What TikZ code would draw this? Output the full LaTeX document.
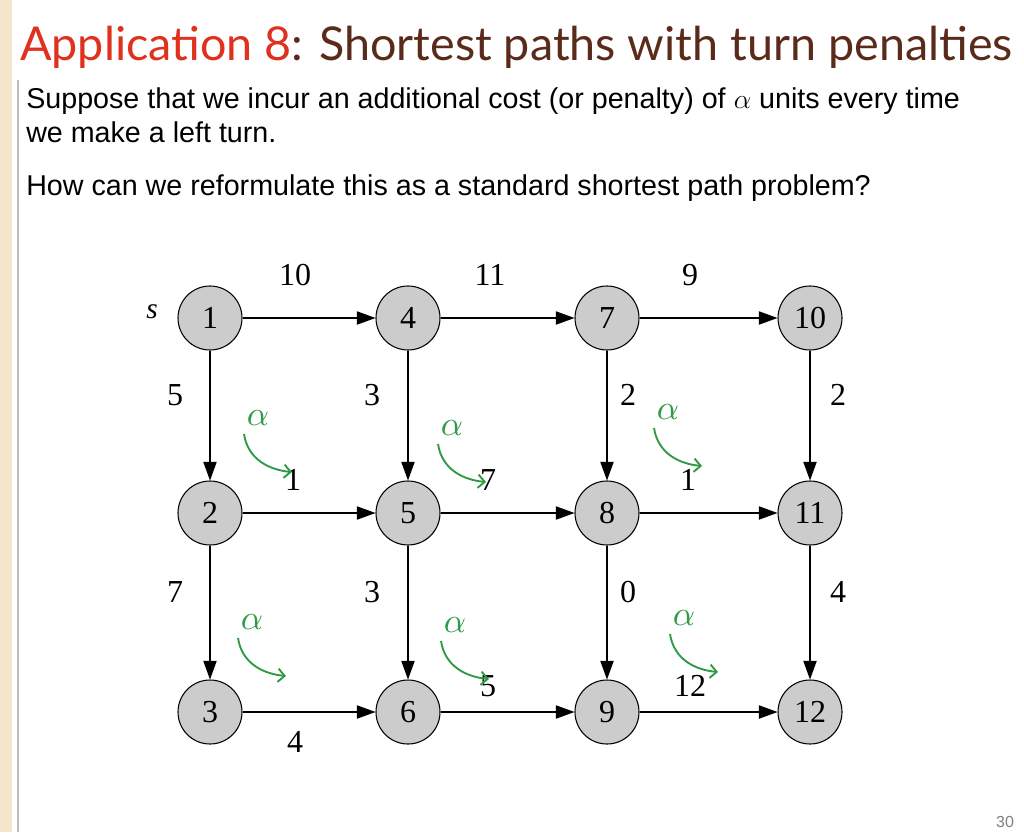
\documentclass[tikz,border=0pt]{standalone}
\usepackage{fontspec}
\setmainfont{Liberation Serif}
\newfontfamily\sansf{Liberation Sans}
\newfontfamily\titlef{Lato}
\usetikzlibrary{arrows.meta}
\definecolor{ttlred}{HTML}{E0301E}
\definecolor{ttlbrown}{HTML}{5A2A1A}
\definecolor{grn}{HTML}{2E9A45}
\begin{document}
\begin{tikzpicture}[x=0.75pt,y=-0.75pt,
  v/.style={circle,draw=black,line width=0.8pt,fill=gray!40,minimum size=48pt,inner sep=0pt,font=\fontsize{24}{24}\selectfont},
  e/.style={-{Triangle[length=14pt,width=10pt]},line width=0.8pt},
  lab/.style={font=\fontsize{24}{24}\selectfont},
  al/.style={grn,scale=2.6},
  ga/.style={grn,line width=1.4pt,-{Straight Barb[length=5pt]}}]
\useasboundingbox (0,0) rectangle (1024,832);
\fill[white] (0,0) rectangle (1024,832);
\fill[yellow!20!brown!25] (0,0) rectangle (12,832);
\draw[gray!50,line width=1pt] (18,80) -- (18,832);
\node[anchor=base west,inner sep=0] (t) at (20,60) {\titlef\fontsize{35}{35}\selectfont\textcolor{ttlred}{Application 8}\textcolor{ttlbrown}{: Shortest paths with turn penalties}};
\node[anchor=base west,inner sep=0] (p1) at (26,108) {\sansf\fontsize{21.5}{24}\selectfont Suppose that we incur an additional cost (or penalty) of $\alpha$ units every time};
\node[anchor=base west,inner sep=0] (p2) at (26,142) {\sansf\fontsize{21.5}{24}\selectfont we make a left turn.};
\node[anchor=base west,inner sep=0] (p3) at (26,195) {\sansf\fontsize{21.5}{24}\selectfont How can we reformulate this as a standard shortest path problem?};
\foreach \n/\x/\y in {1/210/318,4/408/318,7/607/318,10/810/318,2/210/513,5/408/513,8/607/513,11/810/513,3/210/712,6/408/712,9/607/712,12/810/712}
  \node[v] (n\n) at (\x,\y) {\n};
\node[lab,font=\fontsize{22}{22}\selectfont\itshape] (s) at (152,312) {s};
\draw[e] (n1)--(n4); \draw[e] (n4)--(n7); \draw[e] (n7)--(n10);
\draw[e] (n2)--(n5); \draw[e] (n5)--(n8); \draw[e] (n8)--(n11);
\draw[e] (n3)--(n6); \draw[e] (n6)--(n9); \draw[e] (n9)--(n12);
\draw[e] (n1)--(n2); \draw[e] (n2)--(n3);
\draw[e] (n4)--(n5); \draw[e] (n5)--(n6);
\draw[e] (n7)--(n8); \draw[e] (n8)--(n9);
\draw[e] (n10)--(n11); \draw[e] (n11)--(n12);
\foreach \t/\x/\y in {10/295/275,11/490/275,9/690/275,5/175/395,3/372/395,2/628/395,2/838/395,1/293/480,7/488/480,1/688/480,7/175/592,3/372/592,0/628/592,4/838/592,4/295/742,5/488/686,12/690/686}
  \node[lab] at (\x,\y) {\t};
\foreach \x/\y in {258/418,452/428,668/412,252/622,455/625,684/618}{
  \node[al] at (\x,\y) {$\alpha$};
  \draw[ga] (\x-14,\y+16) .. controls (\x-10,\y+42) and (\x+12,\y+52) .. (\x+34,\y+54);
}
\node[gray,font=\sansf\fontsize{12}{12}\selectfont] (pg) at (1005,822) {30};
\end{tikzpicture}
\end{document}
